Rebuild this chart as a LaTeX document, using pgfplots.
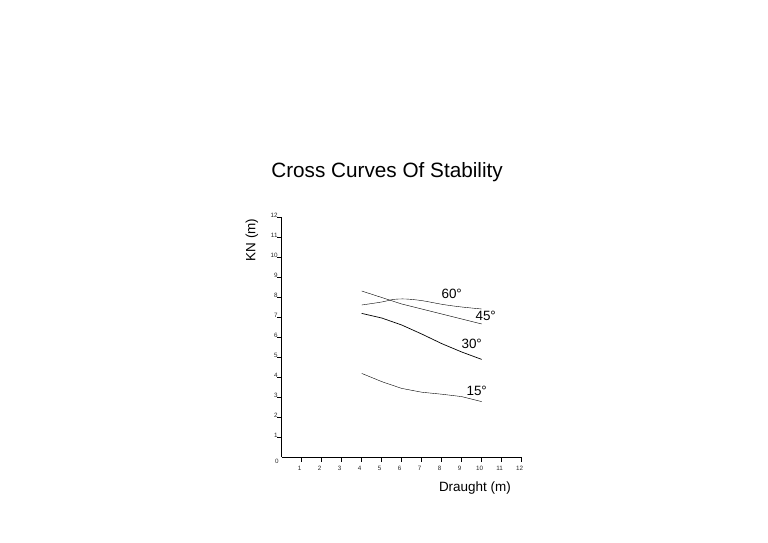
\documentclass[border=0pt]{standalone}
\usepackage{pgfplots}
\pgfplotsset{compat=1.18}
\usepackage{fontspec}
\setmainfont{Liberation Sans}
\begin{document}
\begin{tikzpicture}
\useasboundingbox (-281.7bp,-86bp) rectangle (486.3bp,457bp);
\begin{axis}[
  at={(0,0)}, anchor=south west,
  scale only axis, width=240bp, height=240bp,
  xmin=0, xmax=12, ymin=0, ymax=12,
  axis lines=left, axis line style={-, line width=0.7pt},
  xtick={1,...,12}, ytick={1,...,12},
  tick align=outside, major tick length=4.5bp,
  tick style={black, line width=0.6pt},
  /pgf/number format/assume math mode=true,
  tick label style={font=\fontsize{6.3}{7}\selectfont, text=black!85},
  xticklabel style={xshift=-2bp, yshift=-1bp},
  yticklabel style={anchor=south east, inner sep=0.5pt, xshift=1bp, yshift=-1bp},
  title={Cross Curves Of Stability},
  title style={at={(axis description cs:0.439,1.16)}, anchor=center, font=\fontsize{20.8}{24}\selectfont},
  xlabel={Draught (m)},
  xlabel style={at={(axis description cs:0.805,-0.129)}, anchor=center, font=\fontsize{13.5}{16}\selectfont},
  ylabel={KN (m)},
  ylabel style={at={(axis description cs:-0.124,0.904)}, anchor=center, rotate=0, font=\fontsize{13.5}{16}\selectfont},
  cycle list={{black, line width=0.7pt, no markers, smooth}},
  clip=false,
]
\addplot coordinates {(4,4.18) (5,3.77) (6,3.43) (7,3.24) (8,3.14) (9,3.02) (10,2.77)};
\addplot coordinates {(4,7.18) (5,6.95) (6,6.6) (7,6.15) (8,5.67) (9,5.25) (10,4.88)};
\addplot coordinates {(4,8.3) (6,7.65) (8,7.15) (10,6.65)};
\addplot coordinates {(4,7.6) (5,7.75) (5.6,7.88) (6.2,7.9) (7,7.82) (8.1,7.62) (9,7.5) (10,7.4)};
\node[font=\fontsize{13.5}{16}\selectfont] at (axis cs:8.5,8.15) {60°};
\node[font=\fontsize{13.5}{16}\selectfont] at (axis cs:10.2,7.05) {45°};
\node[font=\fontsize{13.5}{16}\selectfont] at (axis cs:9.5,5.65) {30°};
\node[font=\fontsize{13.5}{16}\selectfont] at (axis cs:9.75,3.3) {15°};
\node[font=\fontsize{6.3}{7}\selectfont, text=black!85, anchor=north east, inner sep=1pt] at (axis cs:-0.1,-0.05) {0};
\end{axis}
\end{tikzpicture}
\end{document}
